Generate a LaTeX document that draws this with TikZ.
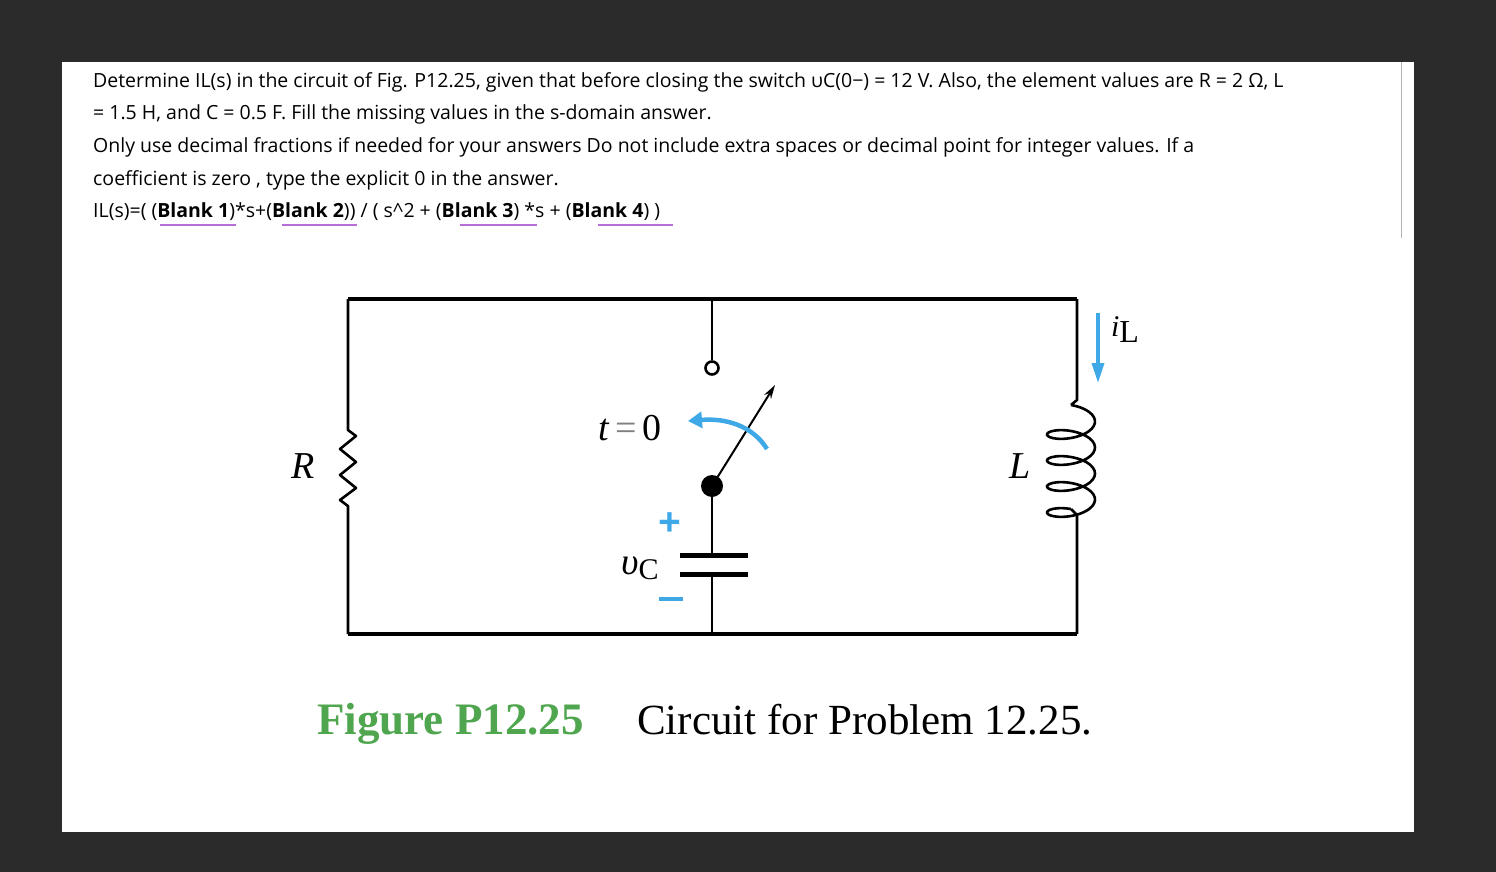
\documentclass[tikz,border=0pt]{standalone}
\usepackage{fontspec}
\setmainfont{Open Sans}
\newfontfamily\timesf{Liberation Serif}
\usetikzlibrary{arrows.meta}
\definecolor{bg}{HTML}{2B2B2B}
\definecolor{bluea}{HTML}{3FA9E8}
\definecolor{figgreen}{HTML}{4FA64F}
\definecolor{blankc}{HTML}{B56FD6}
\tikzset{
  q/.style={anchor=base west,inner sep=0pt,font=\fontsize{19.5}{22}\selectfont},
  wire/.style={line width=4pt},
  thin/.style={line width=2.6pt},
  blk/.style={line width=2.4pt,blankc},
  lbl/.style={font=\timesf\itshape\fontsize{38}{40}\selectfont,inner sep=0pt},
}
\begin{document}
\begin{tikzpicture}[x=1pt,y=-1pt]
\useasboundingbox (0,0) rectangle (1496,872);
\fill[bg] (0,0) rectangle (1496,872);
\fill[white] (62,62) rectangle (1414,832);
\draw[gray!60,line width=1pt] (1401,62) -- (1401,238);
% text
\node[q] (l1) at (93,88) {Determine IL(s) in the circuit of Fig. P12.25, given that before closing the switch υC(0−) = 12 V. Also, the element values are R = 2 Ω, L};
\node[q] (l2) at (93,120) {= 1.5 H, and C = 0.5 F. Fill the missing values in the s-domain answer.};
\node[q] (l3) at (93,153) {Only use decimal fractions if needed for your answers Do not include extra spaces or decimal point for integer values. If a};
\node[q] (l4) at (93,185) {coefficient is zero , type the explicit 0 in the answer.};
\node[q] (l5) at (93,217) {IL(s)=( (\textbf{Blank 1})*s+(\textbf{Blank 2})) / ( s\textasciicircum2 + (\textbf{Blank 3}) *s + (\textbf{Blank 4}) )};
\coordinate (b1a) at (160,225); \coordinate (b1b) at (236,225);
\coordinate (b2a) at (282,225); \coordinate (b2b) at (357,225);
\coordinate (b3a) at (460,225); \coordinate (b3b) at (537,225);
\coordinate (b4a) at (598,225); \coordinate (b4b) at (673,225);
\draw[blk] (b1a)--(b1b); \draw[blk] (b2a)--(b2b); \draw[blk] (b3a)--(b3b); \draw[blk] (b4a)--(b4b);
% circuit coordinates
\coordinate (tl) at (348,299); \coordinate (tr) at (1077,299);
\coordinate (bl) at (348,634); \coordinate (br) at (1077,634);
\coordinate (tm) at (712,299); \coordinate (bm) at (712,634);
\draw[wire] (tl) -- (tr); \draw[wire] (bl) -- (br);
% left branch with resistor
\draw[thin,line join=round] (tl) -- (348,430) -- (356,436) -- (340,449) -- (356,462) -- (340,475) -- (356,488) -- (340,500) -- (348,506) -- (bl);
% right branch with inductor
\draw[thin] (tr) -- (1077,400) -- (1071,405);
\draw[thin,smooth,samples=120,domain=0:4] plot ({1071+24*sin(\x*360)},{405+26*\x+10-10*cos(\x*360)});
\draw[thin] (1071,509) -- (1077,515) -- (br);
% middle branch
\node[circle,draw,thin,minimum size=13pt,inner sep=0pt] (oc) at (712,368) {};
\draw[thin] (tm) -- (oc.north);
\node[circle,fill,minimum size=22pt,inner sep=0pt] (piv) at (712,486) {};
\coordinate (swend) at (775,385);
\draw[line width=2pt,-{Stealth[length=14pt,width=8pt]}] (piv.center) -- (swend);
\coordinate (cp1) at (712,555); \coordinate (cp2) at (712,574);
\draw[thin] (piv.center) -- (cp1);
\draw[line width=5pt] (680,555) -- (748,555);
\draw[line width=5pt] (680,574) -- (748,574);
\draw[thin] (cp2) -- (bm);
% blue arrows
\coordinate (ba1) at (767,449); \coordinate (ba2) at (688,421);
\draw[bluea,line width=4.5pt,-{Triangle[length=14pt,width=16pt]}] (ba1) .. controls (752,425) and (725,418) .. (ba2);
\coordinate (ia1) at (1098,313); \coordinate (ia2) at (1098,383);
\draw[bluea,line width=3.5pt,-{Triangle[length=20pt,width=12pt]}] (ia1) -- (ia2);
% labels
\node[lbl] (R) at (303,466) {R};
\node[lbl] (L) at (1020,466) {L};
\node[lbl] (t0) at (630,428) {\textcolor{black}{t}\textcolor{gray}{\,\upshape =\,}\upshape 0};
\node[lbl] (vc) at (640,568) {υ\raisebox{-5pt}{\upshape\fontsize{30}{30}\selectfont C}};
\node[lbl] (il) at (1125,330) {\fontsize{30}{30}\selectfont i\raisebox{-6pt}{\upshape\fontsize{32}{32}\selectfont L}};
\node[font=\bfseries\fontsize{40}{40}\selectfont,text=bluea,inner sep=0pt] (plus) at (670,525) {+};
\draw[bluea,line width=4pt] (659,599) -- (683,599);
\node[anchor=base west,inner sep=0pt,font=\timesf\bfseries\fontsize{45}{45}\selectfont,text=figgreen] (fig) at (317,734) {Figure P12.25};
\node[anchor=base west,inner sep=0pt,font=\timesf\fontsize{43}{45}\selectfont] (cap) at (637,734) {Circuit for Problem 12.25.};
\end{tikzpicture}
\end{document}
